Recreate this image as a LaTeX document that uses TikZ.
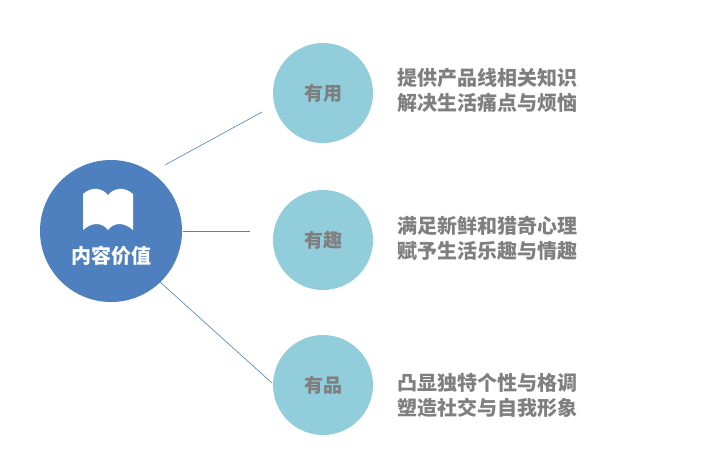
\documentclass[tikz,border=0pt]{standalone}
\usepackage{fontspec}
\newfontfamily\cjk{Noto Sans CJK SC}
\definecolor{bigblue}{HTML}{4E80BF}
\definecolor{lightblue}{HTML}{92CDDC}
\definecolor{txtgray}{HTML}{7F7F7F}
\begin{document}
\begin{tikzpicture}[x=1pt,y=-1pt,font=\cjk\bfseries,
    bigc/.style={circle,fill=bigblue,minimum size=142pt,inner sep=0pt},
    smallc/.style={circle,fill=lightblue,minimum size=100pt,inner sep=0pt,text=txtgray,font=\cjk\bfseries\fontsize{19}{22}\selectfont},
    desc/.style={anchor=west,align=left,text=txtgray,font=\cjk\bfseries\fontsize{20}{25}\selectfont},
    link/.style={bigblue,line width=0.6pt}]
  \useasboundingbox (0,0) rectangle (711,475);
  \node[bigc] (value) at (111,231) {};
  \node[text=white,font=\cjk\bfseries\fontsize{20}{22}\selectfont] (valtxt) at (111,256) {内容价值};
  % book icon
  \fill[white] (83,194) .. controls (92,186) and (102,188) .. (108,195)
    .. controls (114,188) and (124,186) .. (133,194) -- (133,230)
    .. controls (124,222) and (114,222) .. (108,230)
    .. controls (102,222) and (92,222) .. (83,230) -- cycle;
  \node[smallc] (use) at (323,93) {有用};
  \node[smallc] (fun) at (323,240) {有趣};
  \node[smallc] (taste) at (323,385) {有品};
  \coordinate (e1) at (262,112);
  \coordinate (e2) at (250,231);
  \coordinate (e3) at (272,383);
  \coordinate (s1) at (165,165);
  \coordinate (s2) at (183,231);
  \coordinate (s3) at (160,282);
  \draw[link] (s1) -- (e1);
  \draw[link] (s2) -- (e2);
  \draw[link] (s3) -- (e3);
  \node[desc] (d1) at (394,90) {提供产品线相关知识\\解决生活痛点与烦恼};
  \node[desc] (d2) at (394,238) {满足新鲜和猎奇心理\\赋予生活乐趣与情趣};
  \node[desc] (d3) at (394,395) {凸显独特个性与格调\\塑造社交与自我形象};
\end{tikzpicture}
\end{document}
